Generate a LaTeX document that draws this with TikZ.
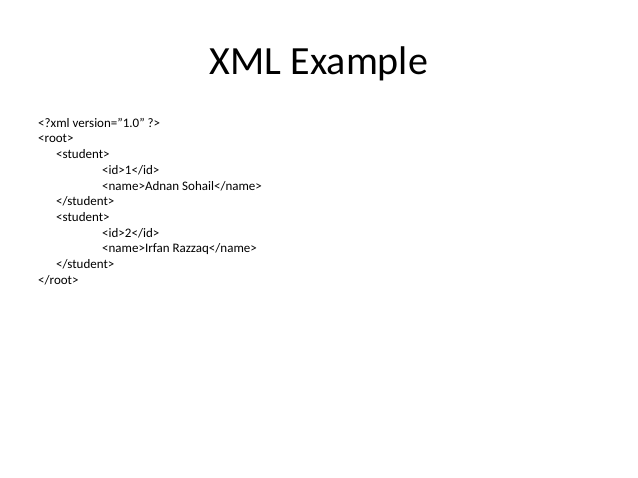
\documentclass[tikz,border=0pt]{standalone}
\usepackage{fontspec}
\setmainfont{Carlito}
\begin{document}
\begin{tikzpicture}[x=1pt,y=-1pt,
  ln/.style={anchor=west,inner sep=0pt,font=\fontsize{13}{15}\selectfont}]
\useasboundingbox[fill=white] (0,0) rectangle (638,478);
\node[inner sep=0pt,font=\fontsize{40}{44}\selectfont] (title) at (319,64) {XML Example};
\node[ln] (l1) at (38,123) {<?xml version="1.0" ?>};
\node[ln] (l2) at (38,138.7) {<root>};
\node[ln] (l3) at (56,154.4) {<student>};
\node[ln] (l4) at (102,170.1) {<id>1</id>};
\node[ln] (l5) at (102,185.8) {<name>Adnan Sohail</name>};
\node[ln] (l6) at (56,201.5) {</student>};
\node[ln] (l7) at (56,217.2) {<student>};
\node[ln] (l8) at (102,232.9) {<id>2</id>};
\node[ln] (l9) at (102,248.6) {<name>Irfan Razzaq</name>};
\node[ln] (l10) at (56,264.3) {</student>};
\node[ln] (l11) at (38,280) {</root>};
\end{tikzpicture}
\end{document}
